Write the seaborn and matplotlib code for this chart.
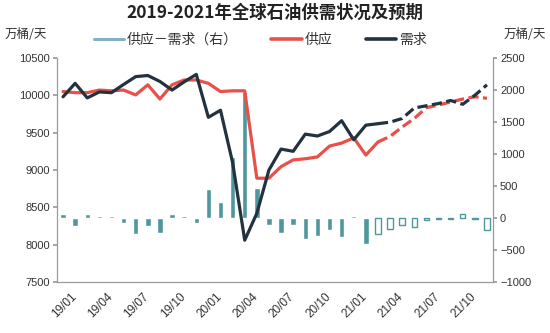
import numpy as np
import matplotlib
matplotlib.use("Agg")
import matplotlib.pyplot as plt
import seaborn as sns
from matplotlib.lines import Line2D

# ------------------------------------------------------------
#  DATA (2019/01 - 2021/12 monthly)
# ------------------------------------------------------------
months = [f"{y}/{m:02d}" for y in (19, 20, 21) for m in range(1, 13)]
tick_labels = ["19/01", "19/04", "19/07", "19/10", "20/01", "20/04",
               "20/07", "20/10", "21/01", "21/04", "21/07", "21/10"]

# 供应 (left axis, 万桶/天)
supply = [10050, 10035, 10035, 10070, 10060, 10070, 10005, 10140, 9950, 10140,
          10205, 10205, 10160, 10050, 10060, 10060, 8890, 8890, 9045, 9135,
          9150, 9175, 9320, 9360, 9430, 9200, 9375, 9450, 9575, 9690,
          9835, 9870, 9910, 9950, 9980, 9960]

# 需求 (left axis, 万桶/天)
demand = [9980, 10160, 9965, 10045, 10035, 10145, 10250, 10265, 10185, 10070,
          10180, 10280, 9705, 9800, 9100, 8060, 8420, 9000, 9280, 9250,
          9480, 9455, 9515, 9660, 9405, 9600, 9620, 9640, 9690, 9830,
          9860, 9890, 9930, 9880, 10000, 10140]

# 供应-需求 (right axis)
gap = [68, -125, 68, 26, 26, -73, -245, -125, -234, 68,
       26, -73, 458, 250, 958, 1974, 469, -109, -234, -109,
       -333, -281, -193, -297, 26, -401, -245, -177, -115, -140,
       -26, -20, -20, 60, -20, -180]

forecast_start = 26  # dashed lines / hollow bars from here on

RED = "#E8504A"
NAVY = "#23323F"
TEAL = "#4F979D"
TEAL_LEGEND = "#86AFC2"
SPINE = "#9A9A9A"
TXT = "#333333"

# ------------------------------------------------------------
#  PLOT
# ------------------------------------------------------------
sns.set_theme(style="white")
plt.rcParams["font.family"] = ["Liberation Sans", "Noto Sans CJK SC", "DejaVu Sans"]
CJK = ["Noto Sans CJK SC", "DejaVu Sans"]

fig = plt.figure(figsize=(5.5, 3.33), dpi=100)
ax = fig.add_axes([0.1036, 0.153, 0.7928, 0.673])
ax2 = ax.twinx()

x = np.arange(len(months))

# bars on the right axis
sns.barplot(x=x, y=gap, ax=ax2, color=TEAL, width=0.45, saturation=1)
for i, p in enumerate(ax2.patches):
    if i >= forecast_start:
        p.set_facecolor("white")
        p.set_edgecolor(TEAL)
        p.set_linewidth(1.0)

# lines on the left axis: solid = actual, dashed = forecast
dash = (0, (3.2, 1.4))
for vals, col in [(supply, RED), (demand, NAVY)]:
    sns.lineplot(x=x[:forecast_start + 1], y=vals[:forecast_start + 1],
                 ax=ax, color=col, lw=2.3)
    sns.lineplot(x=x[forecast_start:], y=vals[forecast_start:],
                 ax=ax, color=col, lw=2.3, linestyle=dash)

ax.set_zorder(ax2.get_zorder() + 1)
ax.patch.set_visible(False)

ax.set_ylim(7500, 10500)
ax.set_yticks(np.arange(7500, 10501, 500))
ax2.set_ylim(-1000, 2500)
ax2.set_yticks(np.arange(-1000, 2501, 500))

ax.set_xlim(-0.5, 35.5)
ax.set_xticks(np.arange(-0.5, 36, 3))
ax.set_xticklabels([])
ax.set_xticks(np.arange(0, 36, 3) + 0.6, minor=True)
ax.set_xticklabels(tick_labels, minor=True, rotation=45, ha="right",
                   rotation_mode="anchor", fontsize=8.5, color=TXT)
ax.tick_params(axis="x", which="minor", length=0, pad=6)
ax.tick_params(axis="x", which="major", length=3, color=SPINE, direction="out")
ax.tick_params(axis="y", length=3, color=SPINE, direction="out", labelsize=8,
               labelcolor=TXT, pad=2)
ax2.tick_params(axis="y", length=3, color=SPINE, direction="out", labelsize=8,
                labelcolor=TXT, pad=2)

for a in (ax, ax2):
    a.set_xlabel("")
    a.set_ylabel("")
    for s in a.spines.values():
        s.set_visible(False)
ax.spines["left"].set_visible(True)
ax.spines["bottom"].set_visible(True)
ax2.spines["right"].set_visible(True)
for s in (ax.spines["left"], ax.spines["bottom"], ax2.spines["right"]):
    s.set_color(SPINE)
    s.set_linewidth(0.9)

# title, units, legend
fig.text(0.5, 0.963, "2019-2021年全球石油供需状况及预期", ha="center", va="center",
         fontsize=12.5, fontweight="bold", family=CJK, color="#222222")
fig.text(0.008, 0.895, "万桶/天", ha="left", va="center", fontsize=9,
         family=CJK, color=TXT)
fig.text(0.992, 0.895, "万桶/天", ha="right", va="center", fontsize=9,
         family=CJK, color=TXT)

handles = [Line2D([], [], color=TEAL_LEGEND, lw=2.2),
           Line2D([], [], color=RED, lw=2.6),
           Line2D([], [], color=NAVY, lw=2.6)]
labels = ["供应－需求（右）", "供应", "需求"]
leg = fig.legend(handles, labels, loc="center", bbox_to_anchor=(0.473, 0.88),
                 ncol=3, frameon=False, handlelength=2.2, handletextpad=0.2,
                 columnspacing=2.4, prop={"family": CJK, "size": 10})
for t in leg.get_texts():
    t.set_color(TXT)

fig.savefig("out.png", dpi=100, facecolor="white")
